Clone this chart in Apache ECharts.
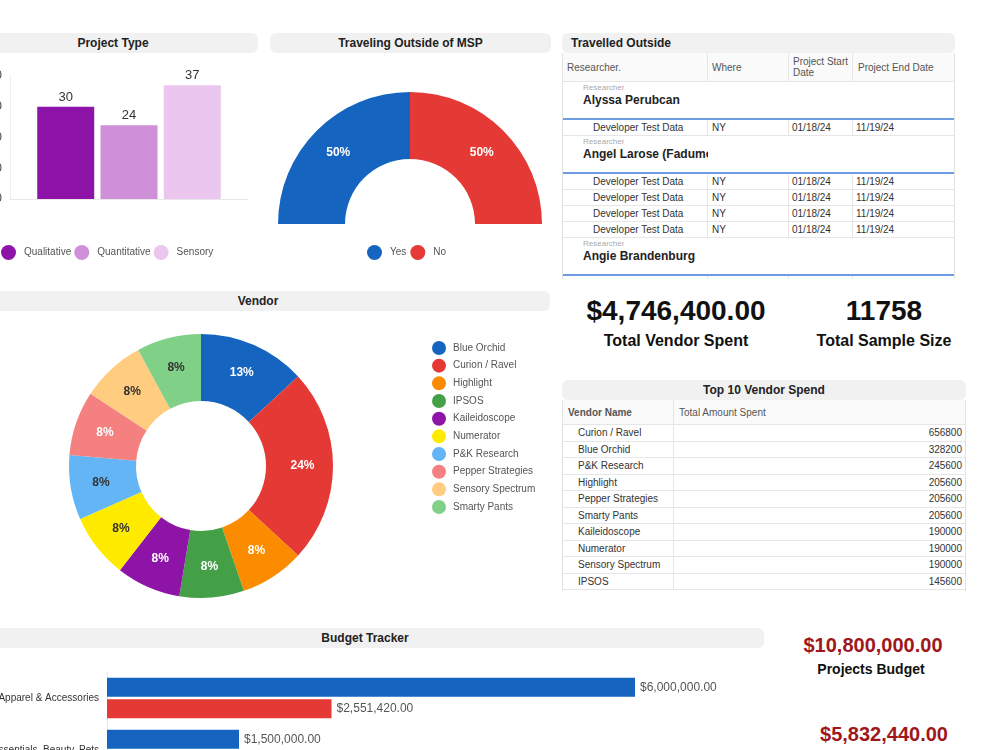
<!DOCTYPE html>
<html>
<head>
<meta charset="utf-8">
<script src="https://cdn.jsdelivr.net/npm/echarts@6/dist/echarts.min.js"></script>
<style>
html,body{margin:0;padding:0;}
body{width:1000px;height:750px;overflow:hidden;position:relative;background:#fff;font-family:"Liberation Sans",Arial,sans-serif;}
.hdr{position:absolute;height:20px;line-height:20px;background:#f1f1f1;border-radius:6px;font-weight:bold;font-size:12px;color:#222;text-align:center;z-index:2;}
.chart{position:absolute;}
.tbl{position:absolute;box-sizing:border-box;border-left:1px solid #e2e2e2;border-right:1px solid #e2e2e2;font-size:10px;color:#333;overflow:hidden;background:#fff;}
.tr{display:flex;box-sizing:border-box;border-bottom:1px solid #e6e6e6;}
.tc{box-sizing:border-box;border-right:1px solid #e6e6e6;overflow:hidden;white-space:nowrap;padding-left:4px;}
.tc:last-child{border-right:none;}
.thead{background:#fafafa;color:#555;}
.thead .tc{white-space:normal;display:flex;align-items:center;line-height:11px;}
.grp{border-bottom:2px solid #6d9ce3;}
.grp .tc{border-right:none;}
.kpi{position:absolute;width:200px;text-align:center;font-weight:bold;white-space:nowrap;}
</style>
</head>
<body>
<div class="hdr" style="left:-32px;top:33px;width:290px;">Project Type</div>
<div class="hdr" style="left:270px;top:33px;width:281px;">Traveling Outside of MSP</div>
<div class="hdr" style="left:562px;top:33px;width:393px;text-align:left;padding-left:9px;box-sizing:border-box;">Travelled Outside</div>
<div class="hdr" style="left:-34px;top:291px;width:584px;">Vendor</div>
<div class="hdr" style="left:562px;top:380px;width:404px;">Top 10 Vendor Spend</div>
<div class="hdr" style="left:-34px;top:628px;width:798px;">Budget Tracker</div>

<div id="c1" class="chart" style="left:0;top:55px;width:260px;height:215px;"></div>
<div id="c2" class="chart" style="left:270px;top:55px;width:281px;height:215px;"></div>
<div id="c3" class="chart" style="left:0;top:312px;width:560px;height:310px;"></div>
<div id="c4" class="chart" style="left:0;top:650px;width:770px;height:200px;"></div>

<div id="travel" class="tbl" style="left:562px;top:53px;width:393px;height:226px;"></div>
<div id="vendorTbl" class="tbl" style="left:562px;top:400px;width:404px;height:191px;"></div>

<div class="kpi" id="kSpent" style="left:576px;top:295px;font-size:28px;line-height:32px;color:#111;"></div>
<div class="kpi" style="left:576px;top:331px;font-size:16px;line-height:20px;color:#111;">Total Vendor Spent</div>
<div class="kpi" id="kSample" style="left:784px;top:295px;font-size:28px;line-height:32px;color:#111;"></div>
<div class="kpi" style="left:784px;top:331px;font-size:16px;line-height:20px;color:#111;">Total Sample Size</div>
<div class="kpi" id="kBudget" style="left:773px;top:633px;font-size:20px;line-height:24px;color:#a0171b;"></div>
<div class="kpi" style="left:771px;top:660px;font-size:14px;line-height:18px;color:#111;">Projects Budget</div>
<div class="kpi" id="kProjSpent" style="left:784px;top:722px;font-size:20px;line-height:24px;color:#a0171b;"></div>

<script>
// ---------------- DATA ----------------
const projectTypes = ['Qualitative', 'Quantitative', 'Sensory'];
const projectCounts = [30, 24, 37];
const projectTicks = [0, 10, 20, 30, 40];

const travelCats = ['Yes', 'No'];
const travelValues = [1, 1];

const vendors = ['Blue Orchid', 'Curion / Ravel', 'Highlight', 'IPSOS', 'Kaileidoscope', 'Numerator', 'P&K Research', 'Pepper Strategies', 'Sensory Spectrum', 'Smarty Pants'];
const vendorProjects = [5, 9, 3, 3, 3, 3, 3, 3, 3, 3];

const topVendors = ['Curion / Ravel', 'Blue Orchid', 'P&K Research', 'Highlight', 'Pepper Strategies', 'Smarty Pants', 'Kaileidoscope', 'Numerator', 'Sensory Spectrum', 'IPSOS'];
const topSpend = [656800, 328200, 245600, 205600, 205600, 205600, 190000, 190000, 190000, 145600];

const budgetCats = ['Apparel & Accessories', 'Essentials, Beauty, Pets'];
const budgetAmounts = [6000000, 1500000];
const budgetSpent = [2551420, null];

const travelHeaders = ['Researcher.', 'Where', 'Project Start Date', 'Project End Date'];
const researchers = ['Alyssa Perubcan', 'Angel Larose (Fadumo)', 'Angie Brandenburg'];
const tripResearcher = [0, 1, 1, 1, 1];
const tripProject = ['Developer Test Data', 'Developer Test Data', 'Developer Test Data', 'Developer Test Data', 'Developer Test Data'];
const tripWhere = ['NY', 'NY', 'NY', 'NY', 'NY'];
const tripStart = ['01/18/24', '01/18/24', '01/18/24', '01/18/24', '01/18/24'];
const tripEnd = ['11/19/24', '11/19/24', '11/19/24', '11/19/24', '11/19/24'];

const totalVendorSpent = 4746400;
const totalSampleSize = 11758;
const projectsBudget = 10800000;
const projectsSpent = 5832440;

// ---------------- STYLE ----------------
const FONT = '"Liberation Sans", Arial, sans-serif';
const purples = ['#8e13a8', '#cf8fd9', '#ebc6ef'];
const travelColors = ['#1565c0', '#e53935'];
const vendorColors = ['#1565c0', '#e53935', '#fb8c00', '#43a047', '#8e14a8', '#ffeb00', '#64b5f6', '#f48080', '#ffcc80', '#81d087'];
const vendorLabelColors = ['#fff', '#fff', '#fff', '#fff', '#fff', '#333', '#333', '#fff', '#333', '#333'];

const money = v => '$' + v.toLocaleString('en-US', {minimumFractionDigits: 2, maximumFractionDigits: 2});

// ---------------- Chart 1: Project Type ----------------
const c1 = echarts.init(document.getElementById('c1'));
c1.setOption({
  animation: false,
  textStyle: {fontFamily: FONT},
  grid: {left: 10, right: 12, top: 21, height: 123, outerBoundsMode: 'none'},
  legend: {
    left: 1, top: 190, padding: 0, itemGap: 3, itemWidth: 15, itemHeight: 15, icon: 'circle',
    textStyle: {color: '#555', fontSize: 10, padding: [0, 0, 0, 3], fontFamily: FONT},
    data: projectTypes
  },
  xAxis: {type: 'category', data: [''], axisLine: {lineStyle: {color: '#e8e8e8'}}, axisTick: {show: false}, axisLabel: {show: false}},
  yAxis: {
    type: 'value', min: projectTicks[0], max: projectTicks[projectTicks.length - 1], interval: projectTicks[1] - projectTicks[0],
    axisLine: {show: true, lineStyle: {color: '#eeeeee'}}, axisTick: {show: false}, splitLine: {show: false},
    axisLabel: {color: '#444', fontSize: 12, margin: 8}
  },
  series: projectTypes.map((name, i) => ({
    type: 'bar', name, data: [projectCounts[i]], barWidth: 57, barGap: '11%',
    itemStyle: {color: purples[i]},
    label: {show: true, position: 'top', distance: 3, color: '#333', fontSize: 13},
    emphasis: {disabled: true}
  }))
});

// ---------------- Chart 2: Traveling Outside ----------------
const c2 = echarts.init(document.getElementById('c2'));
c2.setOption({
  animation: false,
  textStyle: {fontFamily: FONT},
  legend: {
    left: 97, top: 190, padding: 0, itemGap: 4, itemWidth: 15, itemHeight: 15, icon: 'circle',
    textStyle: {color: '#555', fontSize: 10, padding: [0, 0, 0, 3], fontFamily: FONT},
    data: travelCats
  },
  series: [{
    type: 'pie', center: [140, 169], radius: [65, 132], startAngle: 180, endAngle: 0, clockwise: true,
    data: travelCats.map((n, i) => ({name: n, value: travelValues[i], itemStyle: {color: travelColors[i]}})),
    itemStyle: {borderWidth: 0},
    label: {show: true, position: 'inside', color: '#fff', fontWeight: 'bold', fontSize: 12, formatter: p => Math.round(p.percent) + '%'},
    labelLine: {show: false},
    emphasis: {disabled: true}
  }]
});

// ---------------- Chart 3: Vendor ----------------
const vendorTotal = vendorProjects.reduce((a, b) => a + b, 0);
const c3 = echarts.init(document.getElementById('c3'));
c3.setOption({
  animation: false,
  textStyle: {fontFamily: FONT},
  legend: {
    orient: 'vertical', left: 432, top: 29, padding: 0, itemGap: 3.67, itemWidth: 14, itemHeight: 14, icon: 'circle',
    textStyle: {color: '#555', fontSize: 10, padding: [0, 0, 0, 2], fontFamily: FONT},
    data: vendors
  },
  series: [{
    type: 'pie', center: [201, 154], radius: [65, 132], startAngle: 90, clockwise: true,
    data: vendors.map((n, i) => ({
      name: n, value: vendorProjects[i], itemStyle: {color: vendorColors[i]},
      label: {color: vendorLabelColors[i]}
    })),
    itemStyle: {borderWidth: 0},
    label: {show: true, position: 'inside', fontWeight: 'bold', fontSize: 12,
      formatter: p => Math.round(p.value / vendorTotal * 100) + '%'},
    labelLine: {show: false},
    emphasis: {disabled: true}
  }]
});

// ---------------- Chart 4: Budget Tracker ----------------
const c4 = echarts.init(document.getElementById('c4'));
c4.setOption({
  animation: false,
  textStyle: {fontFamily: FONT},
  grid: {left: 107, top: 22, width: 616, height: 104, outerBoundsMode: 'none'},
  xAxis: {type: 'value', min: 0, max: 7000000, interval: 1000000, splitLine: {show: false},
    axisLine: {show: false}, axisTick: {show: false}, axisLabel: {color: '#555', fontSize: 10}},
  yAxis: {type: 'category', inverse: true, data: budgetCats,
    axisLine: {show: true, lineStyle: {color: '#e8e8e8'}}, axisTick: {show: false},
    axisLabel: {color: '#333', fontSize: 10, margin: 8}},
  series: [
    {type: 'bar', name: 'Budget', data: budgetAmounts, barWidth: 19, barGap: '12%', itemStyle: {color: '#1565c0'},
      label: {show: true, position: 'right', distance: 5, color: '#555', fontSize: 12, formatter: p => money(p.value)},
      emphasis: {disabled: true}},
    {type: 'bar', name: 'Spent', data: budgetSpent, barWidth: 19, barGap: '12%', itemStyle: {color: '#e53935'},
      label: {show: true, position: 'right', distance: 5, color: '#555', fontSize: 12, formatter: p => money(p.value)},
      emphasis: {disabled: true}}
  ]
});

// ---------------- Tables ----------------
const travelCols = [145, 81, 64, 101];
function cell(txt, w, extra) {
  return '<div class="tc" style="width:' + w + 'px;' + (extra || '') + '">' + txt + '</div>';
}
let th = '<div class="tr thead" style="height:29px;">';
travelHeaders.forEach((h, i) => { th += cell(h, travelCols[i], i === 3 ? 'padding-left:5px;' : ''); });
th += '</div>';
function groupRow(name) {
  let s = '<div class="tr grp" style="height:38px;">';
  s += '<div class="tc" style="width:' + travelCols[0] + 'px;padding-left:20px;">' +
       '<div style="font-size:8px;line-height:10px;color:#aaa;margin-top:1px;">Researcher</div>' +
       '<div style="font-size:12px;line-height:14px;font-weight:bold;color:#222;">' + name + '</div></div>';
  for (let i = 1; i < 4; i++) s += cell('', travelCols[i]);
  return s + '</div>';
}
researchers.forEach((r, ri) => {
  th += groupRow(r);
  tripResearcher.forEach((t, k) => {
    if (t !== ri) return;
    th += '<div class="tr" style="height:16px;line-height:15px;">' +
      cell(tripProject[k], travelCols[0], 'padding-left:30px;') +
      cell(tripWhere[k], travelCols[1]) +
      cell(tripStart[k], travelCols[2], 'padding-left:3px;') +
      cell(tripEnd[k], travelCols[3], 'padding-left:3px;') + '</div>';
  });
});
th += '<div class="tr" style="height:16px;">' + travelCols.map(w => cell('', w)).join('') + '</div>';
document.getElementById('travel').innerHTML = th;

const vCols = [111, 291];
let vt = '<div class="tr thead" style="height:25px;">' +
  cell('<b>Vendor Name</b>', vCols[0], 'padding-left:5px;') +
  cell('Total Amount Spent', vCols[1], 'padding-left:5px;') + '</div>';
topVendors.forEach((v, i) => {
  vt += '<div class="tr" style="height:16.5px;line-height:15.5px;">' +
    cell(v, vCols[0], 'padding-left:15px;') +
    cell(String(topSpend[i]), vCols[1], 'text-align:right;padding-right:3px;') + '</div>';
});
document.getElementById('vendorTbl').innerHTML = vt;

document.getElementById('kSpent').textContent = money(totalVendorSpent);
document.getElementById('kSample').textContent = String(totalSampleSize);
document.getElementById('kBudget').textContent = money(projectsBudget);
document.getElementById('kProjSpent').textContent = money(projectsSpent);
</script>
</body>
</html>
